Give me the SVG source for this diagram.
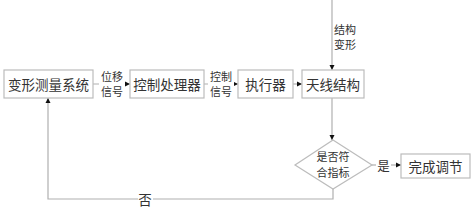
<svg xmlns="http://www.w3.org/2000/svg" width="474" height="209" viewBox="0 0 474 209">
<defs>
<style>
.box{fill:#fff;stroke:#bcbcbc;stroke-width:1.2}
.t{font-family:"Noto Sans CJK SC","Liberation Serif",serif;font-size:13.5px;fill:#333;text-anchor:middle;dominant-baseline:central}
.l{font-family:"Noto Sans CJK SC","Liberation Serif",serif;font-size:11px;fill:#333;text-anchor:middle;dominant-baseline:central}
.c{fill:none;stroke:#b0b0b0;stroke-width:1.2}
</style>
<marker id="ah" markerWidth="6" markerHeight="6" refX="5" refY="3" orient="auto" markerUnits="userSpaceOnUse">
<path d="M0,0.5 L5,3 L0,5.5 Z" fill="#111"/>
</marker>
</defs>
<rect width="474" height="209" fill="#fff"/>
<g id="connectors">
<path class="c" d="M93,84 H130" marker-end="url(#ah)"/>
<path class="c" d="M204,84 H238" marker-end="url(#ah)"/>
<path class="c" d="M293,84 H302" marker-end="url(#ah)"/>
<path class="c" d="M332,0 V70" marker-end="url(#ah)"/>
<path class="c" d="M332,98 V140" marker-end="url(#ah)"/>
<path class="c" d="M372,165 H401" marker-end="url(#ah)"/>
<path class="c" d="M333,189 V199 H48 V98" marker-end="url(#ah)"/>
<rect x="99" y="71" width="26" height="27" fill="#fff"/>
<text class="l" x="112" y="76">位移</text>
<text class="l" x="112" y="91">信号</text>
<rect x="208" y="71" width="26" height="27" fill="#fff"/>
<text class="l" x="221" y="76">控制</text>
<text class="l" x="221" y="91">信号</text>
<text class="l" x="345" y="29">结构</text>
<text class="l" x="345" y="44">变形</text>
<rect x="376" y="157" width="15" height="16" fill="#fff"/>
<text class="t" x="383.5" y="165" style="font-size:12.5px">是</text>
<rect x="138" y="192" width="15" height="16" fill="#fff"/>
<text class="t" x="145" y="199">否</text>
</g>
<g id="n1"><rect class="box" x="4" y="70" width="89" height="28"/><text class="t" x="48.5" y="84">变形测量系统</text></g>
<g id="n2"><rect class="box" x="130" y="70" width="74" height="28"/><text class="t" x="167" y="84">控制处理器</text></g>
<g id="n3"><rect class="box" x="238" y="70" width="55" height="28"/><text class="t" x="265.5" y="84">执行器</text></g>
<g id="n4"><rect class="box" x="302" y="70" width="62" height="28"/><text class="t" x="333" y="84">天线结构</text></g>
<g id="n5"><polygon class="box" points="333,140 372,165 333,189 295,165"/><text class="l" x="333" y="156">是否符</text><text class="l" x="333" y="172">合指标</text></g>
<g id="n6"><rect class="box" x="401" y="154" width="69" height="24"/><text class="t" x="435.5" y="166">完成调节</text></g>
</svg>
